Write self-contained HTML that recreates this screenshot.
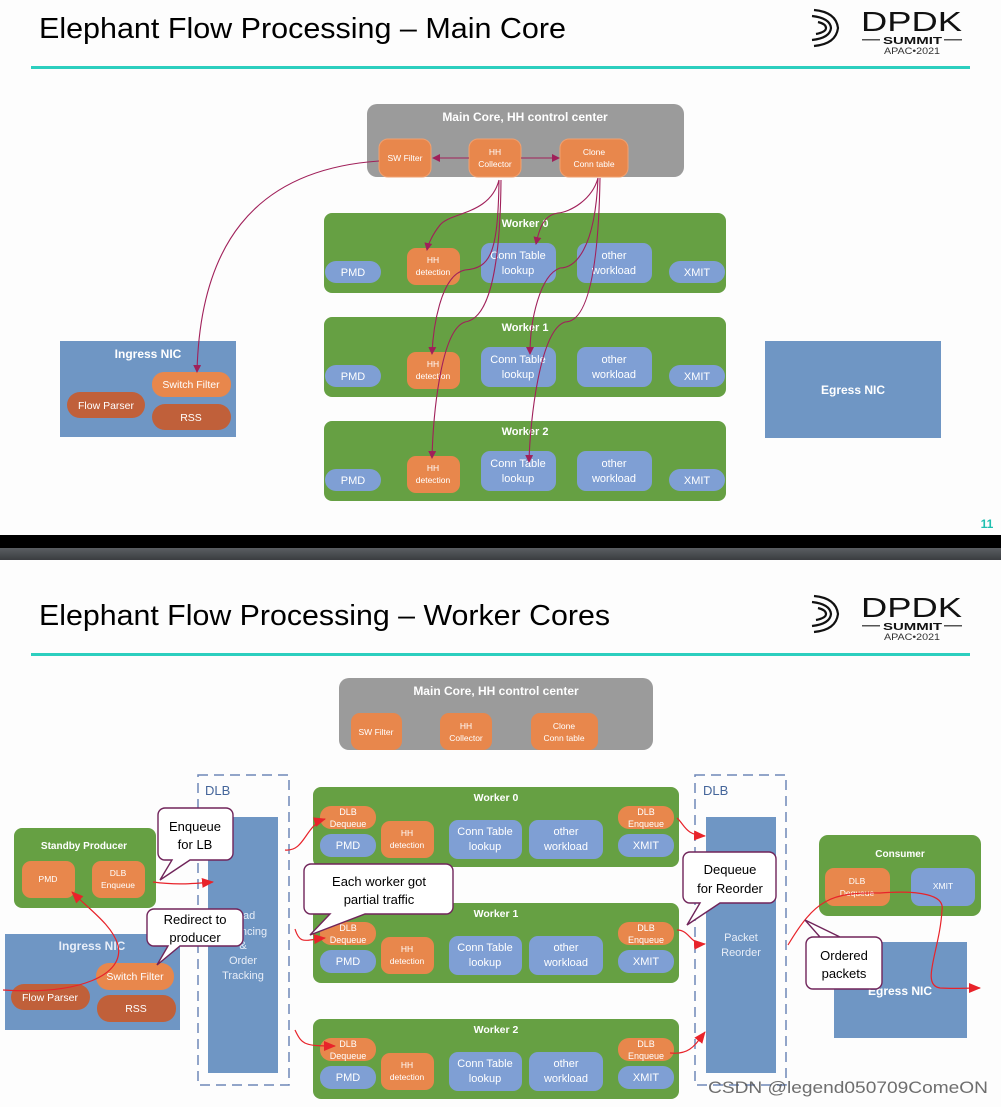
<!DOCTYPE html>
<html><head><meta charset="utf-8"><style>
html,body{margin:0;padding:0;background:#fff;}
svg{display:block;font-family:"Liberation Sans",sans-serif;}
</style></head><body>
<svg width="1001" height="1107" viewBox="0 0 1001 1107" xmlns="http://www.w3.org/2000/svg">
<defs>
<marker id="pa" markerWidth="8" markerHeight="8" refX="7" refY="4" orient="auto" markerUnits="userSpaceOnUse"><path d="M0,0 L8,4 L0,8 z" fill="#a0205a"/></marker>
<marker id="ra" markerWidth="12" markerHeight="10" refX="11" refY="5" orient="auto" markerUnits="userSpaceOnUse"><path d="M0,0 L12,5 L0,10 z" fill="#e8232a"/></marker>
<linearGradient id="gb" x1="0" y1="0" x2="0" y2="1"><stop offset="0" stop-color="#5a5e62"/><stop offset="1" stop-color="#3a3d40"/></linearGradient>
</defs>
<rect width="1001" height="1107" fill="#fdfdfd"/>

<!-- ===== TOP SLIDE ===== -->
<text x="39" y="38" font-size="29" fill="#000" textLength="527" lengthAdjust="spacingAndGlyphs">Elephant Flow Processing – Main Core</text>
<rect x="31" y="66" width="939" height="3" fill="#2ccfbf"/>
<g>
<path d="M814,10 q22,2 24,18 q-2,16 -24,18 M812,16 q18,2 19,12 q-1,10 -19,12 M818,22 q8,2 8,6 q0,4 -10,6" fill="none" stroke="#111" stroke-width="2.2"/>
<text x="861" y="31" font-size="28" fill="#111" textLength="101" lengthAdjust="spacingAndGlyphs">DPDK</text>
<rect x="862" y="39" width="18" height="1.5" fill="#555"/><rect x="944" y="39" width="18" height="1.5" fill="#555"/>
<text x="883" y="44" font-size="10" font-weight="bold" fill="#111" textLength="59" lengthAdjust="spacingAndGlyphs">SUMMIT</text>
<text x="884" y="54" font-size="9" fill="#333" textLength="56" lengthAdjust="spacingAndGlyphs">APAC•2021</text>
</g>
<g transform="translate(0,586)">
<path d="M814,10 q22,2 24,18 q-2,16 -24,18 M812,16 q18,2 19,12 q-1,10 -19,12 M818,22 q8,2 8,6 q0,4 -10,6" fill="none" stroke="#111" stroke-width="2.2"/>
<text x="861" y="31" font-size="28" fill="#111" textLength="101" lengthAdjust="spacingAndGlyphs">DPDK</text>
<rect x="862" y="39" width="18" height="1.5" fill="#555"/><rect x="944" y="39" width="18" height="1.5" fill="#555"/>
<text x="883" y="44" font-size="10" font-weight="bold" fill="#111" textLength="59" lengthAdjust="spacingAndGlyphs">SUMMIT</text>
<text x="884" y="54" font-size="9" fill="#333" textLength="56" lengthAdjust="spacingAndGlyphs">APAC•2021</text>
</g>

<!-- main core top -->
<rect x="367" y="104" width="317" height="73" rx="10" fill="#9b9b9b"/>
<text x="525" y="121" font-size="12" font-weight="bold" fill="#fff" text-anchor="middle">Main Core, HH control center</text>
<g font-size="8.5" fill="#fff" text-anchor="middle">
<rect x="379" y="139" width="52" height="38" rx="9" fill="#e8874c" stroke="#f0a070"/><text x="405" y="161">SW Filter</text>
<rect x="469" y="139" width="52" height="38" rx="9" fill="#e8874c" stroke="#f0a070"/><text x="495" y="155">HH</text><text x="495" y="167">Collector</text>
<rect x="560" y="139" width="68" height="38" rx="9" fill="#e8874c" stroke="#f0a070"/><text x="594" y="155">Clone</text><text x="594" y="167">Conn table</text>
</g>

<!-- workers top -->
<g id="wt">
<rect x="324" y="213" width="402" height="80" rx="8" fill="#66a043"/>
<text x="525" y="227" font-size="11" font-weight="bold" fill="#fff" text-anchor="middle">Worker 0</text>
<rect x="325" y="261" width="56" height="22" rx="11" fill="#7f9fd4"/><text x="353" y="276" font-size="11" fill="#fff" text-anchor="middle">PMD</text>
<rect x="407" y="248" width="53" height="37" rx="9" fill="#e8874c"/><text x="433" y="263" font-size="8.5" fill="#fff" text-anchor="middle">HH</text><text x="433" y="275" font-size="8.5" fill="#fff" text-anchor="middle">detection</text>
<rect x="481" y="243" width="75" height="40" rx="9" fill="#7f9fd4"/><text x="518" y="259" font-size="11" fill="#fff" text-anchor="middle">Conn Table</text><text x="518" y="274" font-size="11" fill="#fff" text-anchor="middle">lookup</text>
<rect x="577" y="243" width="75" height="40" rx="9" fill="#7f9fd4"/><text x="614" y="259" font-size="11" fill="#fff" text-anchor="middle">other</text><text x="614" y="274" font-size="11" fill="#fff" text-anchor="middle">workload</text>
<rect x="669" y="261" width="56" height="22" rx="11" fill="#7f9fd4"/><text x="697" y="276" font-size="11" fill="#fff" text-anchor="middle">XMIT</text>
</g>
<g transform="translate(0,104)">
<rect x="324" y="213" width="402" height="80" rx="8" fill="#66a043"/>
<text x="525" y="227" font-size="11" font-weight="bold" fill="#fff" text-anchor="middle">Worker 1</text>
<rect x="325" y="261" width="56" height="22" rx="11" fill="#7f9fd4"/><text x="353" y="276" font-size="11" fill="#fff" text-anchor="middle">PMD</text>
<rect x="407" y="248" width="53" height="37" rx="9" fill="#e8874c"/><text x="433" y="263" font-size="8.5" fill="#fff" text-anchor="middle">HH</text><text x="433" y="275" font-size="8.5" fill="#fff" text-anchor="middle">detection</text>
<rect x="481" y="243" width="75" height="40" rx="9" fill="#7f9fd4"/><text x="518" y="259" font-size="11" fill="#fff" text-anchor="middle">Conn Table</text><text x="518" y="274" font-size="11" fill="#fff" text-anchor="middle">lookup</text>
<rect x="577" y="243" width="75" height="40" rx="9" fill="#7f9fd4"/><text x="614" y="259" font-size="11" fill="#fff" text-anchor="middle">other</text><text x="614" y="274" font-size="11" fill="#fff" text-anchor="middle">workload</text>
<rect x="669" y="261" width="56" height="22" rx="11" fill="#7f9fd4"/><text x="697" y="276" font-size="11" fill="#fff" text-anchor="middle">XMIT</text>
</g>
<g transform="translate(0,208)">
<rect x="324" y="213" width="402" height="80" rx="8" fill="#66a043"/>
<text x="525" y="227" font-size="11" font-weight="bold" fill="#fff" text-anchor="middle">Worker 2</text>
<rect x="325" y="261" width="56" height="22" rx="11" fill="#7f9fd4"/><text x="353" y="276" font-size="11" fill="#fff" text-anchor="middle">PMD</text>
<rect x="407" y="248" width="53" height="37" rx="9" fill="#e8874c"/><text x="433" y="263" font-size="8.5" fill="#fff" text-anchor="middle">HH</text><text x="433" y="275" font-size="8.5" fill="#fff" text-anchor="middle">detection</text>
<rect x="481" y="243" width="75" height="40" rx="9" fill="#7f9fd4"/><text x="518" y="259" font-size="11" fill="#fff" text-anchor="middle">Conn Table</text><text x="518" y="274" font-size="11" fill="#fff" text-anchor="middle">lookup</text>
<rect x="577" y="243" width="75" height="40" rx="9" fill="#7f9fd4"/><text x="614" y="259" font-size="11" fill="#fff" text-anchor="middle">other</text><text x="614" y="274" font-size="11" fill="#fff" text-anchor="middle">workload</text>
<rect x="669" y="261" width="56" height="22" rx="11" fill="#7f9fd4"/><text x="697" y="276" font-size="11" fill="#fff" text-anchor="middle">XMIT</text>
</g>

<!-- ingress / egress top -->
<rect x="60" y="341" width="176" height="96" fill="#6f96c4"/>
<text x="148" y="358" font-size="12" font-weight="bold" fill="#fff" text-anchor="middle">Ingress NIC</text>
<rect x="152" y="372" width="79" height="25" rx="12" fill="#e8874c"/><text x="191" y="388" font-size="10.5" fill="#fff" text-anchor="middle">Switch Filter</text>
<rect x="67" y="392" width="78" height="26" rx="13" fill="#c0603a"/><text x="106" y="409" font-size="10.5" fill="#fff" text-anchor="middle">Flow Parser</text>
<rect x="152" y="404" width="79" height="26" rx="13" fill="#c0603a"/><text x="191" y="421" font-size="10.5" fill="#fff" text-anchor="middle">RSS</text>
<rect x="765" y="341" width="176" height="97" fill="#6f96c4"/>
<text x="853" y="394" font-size="12" font-weight="bold" fill="#fff" text-anchor="middle">Egress NIC</text>

<!-- top connectors -->
<g fill="none" stroke="#a0205a" stroke-width="1.1">
<path d="M469,158 L433,158" marker-end="url(#pa)"/>
<path d="M521,158 L559,158" marker-end="url(#pa)"/>
<path d="M379,161 C250,170 200,250 197,372" marker-end="url(#pa)"/>
<path d="M499,180 C490,215 450,212 440,225 C432,235 428,245 427,250" marker-end="url(#pa)"/>
<path d="M499,180 C498,255 490,268 465,270 C440,275 433,330 432,354" marker-end="url(#pa)"/>
<path d="M501,180 C500,300 480,320 465,322 C440,330 433,420 432,458" marker-end="url(#pa)"/>
<path d="M598,178 C592,200 570,212 558,213 C545,215 540,225 536,244" marker-end="url(#pa)"/>
<path d="M598,178 C595,250 575,268 560,268 C540,275 530,320 530,354" marker-end="url(#pa)"/>
<path d="M600,178 C598,300 580,322 565,322 C540,330 530,420 529,462" marker-end="url(#pa)"/>
</g>
<text x="987" y="528" font-size="12" font-weight="bold" fill="#20c0b0" text-anchor="middle">11</text>

<!-- divider -->
<rect x="0" y="535" width="1001" height="13" fill="#000"/>
<rect x="0" y="548" width="1001" height="12" fill="url(#gb)"/>

<!-- ===== BOTTOM SLIDE ===== -->
<text x="39" y="625" font-size="29" fill="#000" textLength="571" lengthAdjust="spacingAndGlyphs">Elephant Flow Processing – Worker Cores</text>
<rect x="31" y="653" width="939" height="3" fill="#2ccfbf"/>

<rect x="339" y="678" width="314" height="72" rx="10" fill="#9b9b9b"/>
<text x="496" y="695" font-size="12" font-weight="bold" fill="#fff" text-anchor="middle">Main Core, HH control center</text>
<g font-size="8.5" fill="#fff" text-anchor="middle">
<rect x="351" y="713" width="51" height="37" rx="9" fill="#e8874c"/><text x="376" y="735">SW Filter</text>
<rect x="440" y="713" width="52" height="37" rx="9" fill="#e8874c"/><text x="466" y="729">HH</text><text x="466" y="741">Collector</text>
<rect x="531" y="713" width="67" height="37" rx="9" fill="#e8874c"/><text x="564" y="729">Clone</text><text x="564" y="741">Conn table</text>
</g>

<!-- DLB left -->
<rect x="198" y="775" width="91" height="310" fill="none" stroke="#6f88b8" stroke-width="1.5" stroke-dasharray="10,6"/>
<text x="205" y="795" font-size="13" fill="#44659a">DLB</text>
<rect x="208" y="817" width="70" height="256" fill="#6f96c4"/>
<g font-size="11" fill="#e8eef8" text-anchor="middle">
<text x="243" y="919">Load</text><text x="243" y="935">Balancing</text><text x="243" y="949">&amp;</text><text x="243" y="964">Order</text><text x="243" y="979">Tracking</text>
</g>
<!-- DLB right -->
<rect x="695" y="775" width="91" height="310" fill="none" stroke="#6f88b8" stroke-width="1.5" stroke-dasharray="10,6"/>
<text x="703" y="795" font-size="13" fill="#44659a">DLB</text>
<rect x="706" y="817" width="70" height="256" fill="#6f96c4"/>
<g font-size="11" fill="#e8eef8" text-anchor="middle"><text x="741" y="941">Packet</text><text x="741" y="956">Reorder</text></g>

<!-- bottom workers -->
<g id="wb0">
<rect x="313" y="787" width="366" height="80" rx="8" fill="#66a043"/>
<text x="496" y="801" font-size="10.5" font-weight="bold" fill="#fff" text-anchor="middle">Worker 0</text>
<rect x="320" y="806" width="56" height="23" rx="11" fill="#e8874c"/><text x="348" y="815" font-size="9" fill="#fff" text-anchor="middle">DLB</text><text x="348" y="827" font-size="9" fill="#fff" text-anchor="middle">Dequeue</text>
<rect x="320" y="834" width="56" height="23" rx="11" fill="#7f9fd4"/><text x="348" y="849" font-size="11" fill="#fff" text-anchor="middle">PMD</text>
<rect x="381" y="821" width="53" height="37" rx="9" fill="#e8874c"/><text x="407" y="836" font-size="8.5" fill="#fff" text-anchor="middle">HH</text><text x="407" y="848" font-size="8.5" fill="#fff" text-anchor="middle">detection</text>
<rect x="449" y="820" width="73" height="39" rx="9" fill="#7f9fd4"/><text x="485" y="835" font-size="11" fill="#fff" text-anchor="middle">Conn Table</text><text x="485" y="850" font-size="11" fill="#fff" text-anchor="middle">lookup</text>
<rect x="529" y="820" width="74" height="39" rx="9" fill="#7f9fd4"/><text x="566" y="835" font-size="11" fill="#fff" text-anchor="middle">other</text><text x="566" y="850" font-size="11" fill="#fff" text-anchor="middle">workload</text>
<rect x="618" y="806" width="56" height="23" rx="11" fill="#e8874c"/><text x="646" y="815" font-size="9" fill="#fff" text-anchor="middle">DLB</text><text x="646" y="827" font-size="9" fill="#fff" text-anchor="middle">Enqueue</text>
<rect x="618" y="834" width="56" height="23" rx="11" fill="#7f9fd4"/><text x="646" y="849" font-size="11" fill="#fff" text-anchor="middle">XMIT</text>
</g>
<g transform="translate(0,116)">
<rect x="313" y="787" width="366" height="80" rx="8" fill="#66a043"/>
<text x="496" y="801" font-size="10.5" font-weight="bold" fill="#fff" text-anchor="middle">Worker 1</text>
<rect x="320" y="806" width="56" height="23" rx="11" fill="#e8874c"/><text x="348" y="815" font-size="9" fill="#fff" text-anchor="middle">DLB</text><text x="348" y="827" font-size="9" fill="#fff" text-anchor="middle">Dequeue</text>
<rect x="320" y="834" width="56" height="23" rx="11" fill="#7f9fd4"/><text x="348" y="849" font-size="11" fill="#fff" text-anchor="middle">PMD</text>
<rect x="381" y="821" width="53" height="37" rx="9" fill="#e8874c"/><text x="407" y="836" font-size="8.5" fill="#fff" text-anchor="middle">HH</text><text x="407" y="848" font-size="8.5" fill="#fff" text-anchor="middle">detection</text>
<rect x="449" y="820" width="73" height="39" rx="9" fill="#7f9fd4"/><text x="485" y="835" font-size="11" fill="#fff" text-anchor="middle">Conn Table</text><text x="485" y="850" font-size="11" fill="#fff" text-anchor="middle">lookup</text>
<rect x="529" y="820" width="74" height="39" rx="9" fill="#7f9fd4"/><text x="566" y="835" font-size="11" fill="#fff" text-anchor="middle">other</text><text x="566" y="850" font-size="11" fill="#fff" text-anchor="middle">workload</text>
<rect x="618" y="806" width="56" height="23" rx="11" fill="#e8874c"/><text x="646" y="815" font-size="9" fill="#fff" text-anchor="middle">DLB</text><text x="646" y="827" font-size="9" fill="#fff" text-anchor="middle">Enqueue</text>
<rect x="618" y="834" width="56" height="23" rx="11" fill="#7f9fd4"/><text x="646" y="849" font-size="11" fill="#fff" text-anchor="middle">XMIT</text>
</g>
<g transform="translate(0,232)">
<rect x="313" y="787" width="366" height="80" rx="8" fill="#66a043"/>
<text x="496" y="801" font-size="10.5" font-weight="bold" fill="#fff" text-anchor="middle">Worker 2</text>
<rect x="320" y="806" width="56" height="23" rx="11" fill="#e8874c"/><text x="348" y="815" font-size="9" fill="#fff" text-anchor="middle">DLB</text><text x="348" y="827" font-size="9" fill="#fff" text-anchor="middle">Dequeue</text>
<rect x="320" y="834" width="56" height="23" rx="11" fill="#7f9fd4"/><text x="348" y="849" font-size="11" fill="#fff" text-anchor="middle">PMD</text>
<rect x="381" y="821" width="53" height="37" rx="9" fill="#e8874c"/><text x="407" y="836" font-size="8.5" fill="#fff" text-anchor="middle">HH</text><text x="407" y="848" font-size="8.5" fill="#fff" text-anchor="middle">detection</text>
<rect x="449" y="820" width="73" height="39" rx="9" fill="#7f9fd4"/><text x="485" y="835" font-size="11" fill="#fff" text-anchor="middle">Conn Table</text><text x="485" y="850" font-size="11" fill="#fff" text-anchor="middle">lookup</text>
<rect x="529" y="820" width="74" height="39" rx="9" fill="#7f9fd4"/><text x="566" y="835" font-size="11" fill="#fff" text-anchor="middle">other</text><text x="566" y="850" font-size="11" fill="#fff" text-anchor="middle">workload</text>
<rect x="618" y="806" width="56" height="23" rx="11" fill="#e8874c"/><text x="646" y="815" font-size="9" fill="#fff" text-anchor="middle">DLB</text><text x="646" y="827" font-size="9" fill="#fff" text-anchor="middle">Enqueue</text>
<rect x="618" y="834" width="56" height="23" rx="11" fill="#7f9fd4"/><text x="646" y="849" font-size="11" fill="#fff" text-anchor="middle">XMIT</text>
</g>

<!-- standby producer -->
<rect x="14" y="828" width="142" height="80" rx="8" fill="#66a043"/>
<text x="84" y="849" font-size="10" font-weight="bold" fill="#fff" text-anchor="middle">Standby Producer</text>
<rect x="22" y="861" width="53" height="37" rx="9" fill="#e8874c"/><text x="48" y="882" font-size="8.5" fill="#fff" text-anchor="middle">PMD</text>
<rect x="92" y="861" width="53" height="37" rx="9" fill="#e8874c"/><text x="118" y="876" font-size="8.5" fill="#fff" text-anchor="middle">DLB</text><text x="118" y="888" font-size="8.5" fill="#fff" text-anchor="middle">Enqueue</text>

<!-- ingress bottom -->
<rect x="5" y="934" width="175" height="96" fill="#6f96c4"/>
<text x="92" y="950" font-size="12" font-weight="bold" fill="#e8eef8" text-anchor="middle">Ingress NIC</text>
<rect x="96" y="963" width="78" height="27" rx="13" fill="#e8874c"/><text x="135" y="980" font-size="10.5" fill="#fff" text-anchor="middle">Switch Filter</text>
<rect x="11" y="984" width="79" height="26" rx="13" fill="#c0603a"/><text x="50" y="1001" font-size="10.5" fill="#fff" text-anchor="middle">Flow Parser</text>
<rect x="97" y="995" width="79" height="27" rx="13" fill="#c0603a"/><text x="136" y="1012" font-size="10.5" fill="#fff" text-anchor="middle">RSS</text>

<!-- consumer / egress -->
<rect x="834" y="942" width="133" height="96" fill="#6f96c4"/>
<text x="900" y="995" font-size="12" font-weight="bold" fill="#fff" text-anchor="middle">Egress NIC</text>
<rect x="819" y="835" width="162" height="81" rx="9" fill="#66a043"/>
<text x="900" y="857" font-size="10" font-weight="bold" fill="#fff" text-anchor="middle">Consumer</text>
<rect x="825" y="868" width="65" height="38" rx="9" fill="#e8874c"/><text x="857" y="884" font-size="8.5" fill="#fff" text-anchor="middle">DLB</text><text x="857" y="896" font-size="8.5" fill="#fff" text-anchor="middle">Dequeue</text>
<rect x="911" y="868" width="64" height="38" rx="9" fill="#7f9fd4"/><text x="943" y="889" font-size="8.5" fill="#fff" text-anchor="middle">XMIT</text>

<!-- red arrows -->
<g fill="none" stroke="#e8232a" stroke-width="1.2">
<path d="M3,990 C80,995 125,975 118,945 C112,925 90,910 72,892" marker-end="url(#ra)"/>
<path d="M153,882 C175,885 190,884 213,882" marker-end="url(#ra)"/>
<path d="M285,850 C305,852 305,825 325,819" marker-end="url(#ra)"/>
<path d="M295,929 C300,945 305,940 325,938" marker-end="url(#ra)"/>
<path d="M295,1030 C302,1045 305,1046 335,1046" marker-end="url(#ra)"/>
<path d="M677,818 C685,825 685,835 705,836" marker-end="url(#ra)"/>
<path d="M677,930 C690,930 690,945 705,944" marker-end="url(#ra)"/>
<path d="M670,1053 C690,1055 695,1045 705,1032" marker-end="url(#ra)"/>
<path d="M788,945 C815,900 830,892 880,893 C920,890 945,895 942,910 C940,950 920,985 940,988 C955,989 965,988 980,988" marker-end="url(#ra)"/>
</g>

<!-- callouts -->
<g fill="#fff" stroke="#70245a" stroke-width="1.4">
<path d="M165,808 H226 a7,7 0 0 1 7,7 V853 a7,7 0 0 1 -7,7 H190 L160,880 L172,860 H165 a7,7 0 0 1 -7,-7 V815 a7,7 0 0 1 7,-7 z"/>
<path d="M154,909 H236 a7,7 0 0 1 7,7 V939 a7,7 0 0 1 -7,7 H180 L157,965 L168,946 H154 a7,7 0 0 1 -7,-7 V916 a7,7 0 0 1 7,-7 z"/>
<path d="M311,864 H446 a7,7 0 0 1 7,7 V907 a7,7 0 0 1 -7,7 H365 L310,935 L330,914 H311 a7,7 0 0 1 -7,-7 V871 a7,7 0 0 1 7,-7 z"/>
<path d="M690,852 H769 a7,7 0 0 1 7,7 V896 a7,7 0 0 1 -7,7 H720 L687,925 L700,903 H690 a7,7 0 0 1 -7,-7 V859 a7,7 0 0 1 7,-7 z"/>
<path d="M813,937 H875 a7,7 0 0 1 7,7 V982 a7,7 0 0 1 -7,7 H813 a7,7 0 0 1 -7,-7 V944 a7,7 0 0 1 7,-7 H820 L805,920 L840,937 z"/>
</g>
<g font-size="13" fill="#000" text-anchor="middle">
<text x="195" y="831">Enqueue</text><text x="195" y="849">for LB</text>
<text x="195" y="924">Redirect to</text><text x="195" y="942">producer</text>
<text x="379" y="886">Each worker got</text><text x="379" y="904">partial traffic</text>
<text x="730" y="874">Dequeue</text><text x="730" y="893">for Reorder</text>
<text x="844" y="960">Ordered</text><text x="844" y="978">packets</text>
</g>

<text x="708" y="1093" font-size="17" fill="#555" fill-opacity="0.85" textLength="280" lengthAdjust="spacingAndGlyphs">CSDN @legend050709ComeON</text>
</svg>
</body></html>
